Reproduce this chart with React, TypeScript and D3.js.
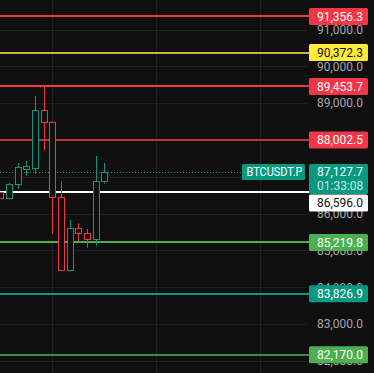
import React from "react";
import * as d3 from "d3";

// ---- data ----
const candleIndex = [0, 1, 2, 3, 4, 5, 6, 7, 8, 9, 10, 11, 12];
const opens = [86580, 86417, 86797, 87220, 87248, 88806, 88480, 86444, 84462, 85602, 85466, 85304, 86878];
const highs = [86590, 86832, 87375, 87430, 89194, 89466, 88508, 86886, 85828, 85738, 85583, 87565, 87375];
const lows = [86400, 86379, 86677, 87030, 87085, 87709, 85456, 84440, 84424, 85249, 85075, 85130, 86813];
const closes = [86417, 86797, 87258, 87294, 88806, 88480, 86444, 84462, 85602, 85466, 85304, 86878, 87127.7];

const priceTicks = [91000, 90000, 89000, 88000, 87000, 86000, 85000, 84000, 83000, 82000];
const timeGridIndex = [6, 18, 30];

const levelValues = [91356.3, 90372.3, 89453.7, 88002.5, 86596.0, 85219.8, 83826.9, 82170.0];
const levelKinds = ["red", "yellow", "red", "darkred", "white", "green", "teal", "darkgreen"];

const symbol = "BTCUSDT.P";
const lastPrice = 87127.7;
const countdown = "01:33:08";

// ---- styles ----
const W = 374;
const H = 373;
const CHART_R = 307;
const BG = "#0f0f0f";
const GRID = "#1f1f1f";
const UP = "#089981";
const DOWN = "#F23645";
const FONT = "Roboto, 'Liberation Sans', sans-serif";

const kindStyle: Record<string, { line: string; box: string; text: string }> = {
  red: { line: "#F23645", box: "#F23645", text: "#ffffff" },
  darkred: { line: "#C2303B", box: "#F23645", text: "#ffffff" },
  yellow: { line: "#C9B43A", box: "#FFEB3B", text: "#111111" },
  white: { line: "#ffffff", box: "#ffffff", text: "#111111" },
  green: { line: "#4CAF50", box: "#4CAF50", text: "#ffffff" },
  teal: { line: "#089981", box: "#089981", text: "#ffffff" },
  darkgreen: { line: "#3B8E3E", box: "#4CAF50", text: "#ffffff" },
};

const fmt = d3.format(",.1f");

export default function App() {
  const y = d3.scaleLinear().domain([82000, 91000]).range([29.5 + 9000 * 0.03683, 29.5]);
  const x = d3.scaleLinear().domain([0, 12]).range([0.3, 104.3]);

  const lastY = y(lastPrice);
  const curTop = Math.round(lastY) - 8;
  const curBottom = curTop + 30;
  const boxH = 17;
  const labelX = 309;
  const labelW = 59;

  return (
    <svg
      width={W}
      height={H}
      style={{ position: "fixed", left: 0, top: 0, display: "block" }}
      fontFamily={FONT}
    >
      <rect x={0} y={0} width={W} height={H} fill={BG} />
      {/* grid */}
      {priceTicks.map((t) => (
        <line key={"h" + t} x1={0} x2={CHART_R} y1={Math.round(y(t)) + 0.5} y2={Math.round(y(t)) + 0.5} stroke={GRID} strokeWidth={1} />
      ))}
      {timeGridIndex.map((i) => (
        <line key={"v" + i} x1={Math.round(x(i)) + 0.5} x2={Math.round(x(i)) + 0.5} y1={0} y2={H} stroke={GRID} strokeWidth={1} />
      ))}

      {/* axis labels */}
      {priceTicks.map((t) => (
        <text key={"t" + t} x={317} y={y(t)} dy="0.35em" fontSize={12} fill="#a3a6af">
          {fmt(t)}
        </text>
      ))}

      {/* level lines */}
      {levelValues.map((v, i) => {
        const s = kindStyle[levelKinds[i]];
        const yy = Math.round(y(v));
        return <line key={"l" + i} x1={0} x2={labelX} y1={yy} y2={yy} stroke={s.line} strokeWidth={2} />;
      })}

      {/* current price dotted line */}
      <line x1={0} x2={241} y1={Math.round(lastY) + 0.5} y2={Math.round(lastY) + 0.5} stroke={UP} strokeWidth={1} strokeDasharray="1 2" />

      {/* candles */}
      {candleIndex.map((i) => {
        const cx = Math.round(x(i));
        const up = closes[i] >= opens[i];
        const c = up ? UP : DOWN;
        const top = Math.round(y(Math.max(opens[i], closes[i])));
        const bot = Math.round(y(Math.min(opens[i], closes[i])));
        return (
          <g key={"c" + i}>
            <line x1={cx + 0.5} x2={cx + 0.5} y1={y(highs[i])} y2={y(lows[i])} stroke={c} strokeWidth={1} />
            <rect x={cx - 2.5} y={top + 0.5} width={6} height={Math.max(1, bot - top)} fill={BG} stroke={c} strokeWidth={1} />
          </g>
        );
      })}

      {/* level labels */}
      {levelValues.map((v, i) => {
        const s = kindStyle[levelKinds[i]];
        let cy = y(v);
        if (cy + boxH / 2 > curTop && cy - boxH / 2 < curBottom) {
          cy = curBottom + boxH / 2 + 0.5;
        }
        return (
          <g key={"lb" + i}>
            <rect x={labelX} y={cy - boxH / 2} width={labelW} height={boxH} fill={s.box} rx={1.5} />
            <text x={317} y={cy} dy="0.36em" fontSize={12} fill={s.text}>
              {fmt(v)}
            </text>
          </g>
        );
      })}

      {/* current price label */}
      <rect x={labelX} y={curTop} width={labelW} height={30} fill={UP} rx={1.5} />
      <text x={317} y={curTop + 8} dy="0.36em" fontSize={12} fill="#ffffff">
        {fmt(lastPrice)}
      </text>
      <text x={317} y={curTop + 22} dy="0.36em" fontSize={12} fill="#ffffff" fillOpacity={0.78}>
        {countdown}
      </text>

      {/* symbol label */}
      <rect x={242} y={curTop} width={63} height={16} fill={UP} rx={1.5} />
      <text x={246.5} y={curTop + 8} dy="0.36em" fontSize={12} fill="#ffffff" textLength={56} lengthAdjust="spacingAndGlyphs">
        {symbol}
      </text>
    </svg>
  );
}
